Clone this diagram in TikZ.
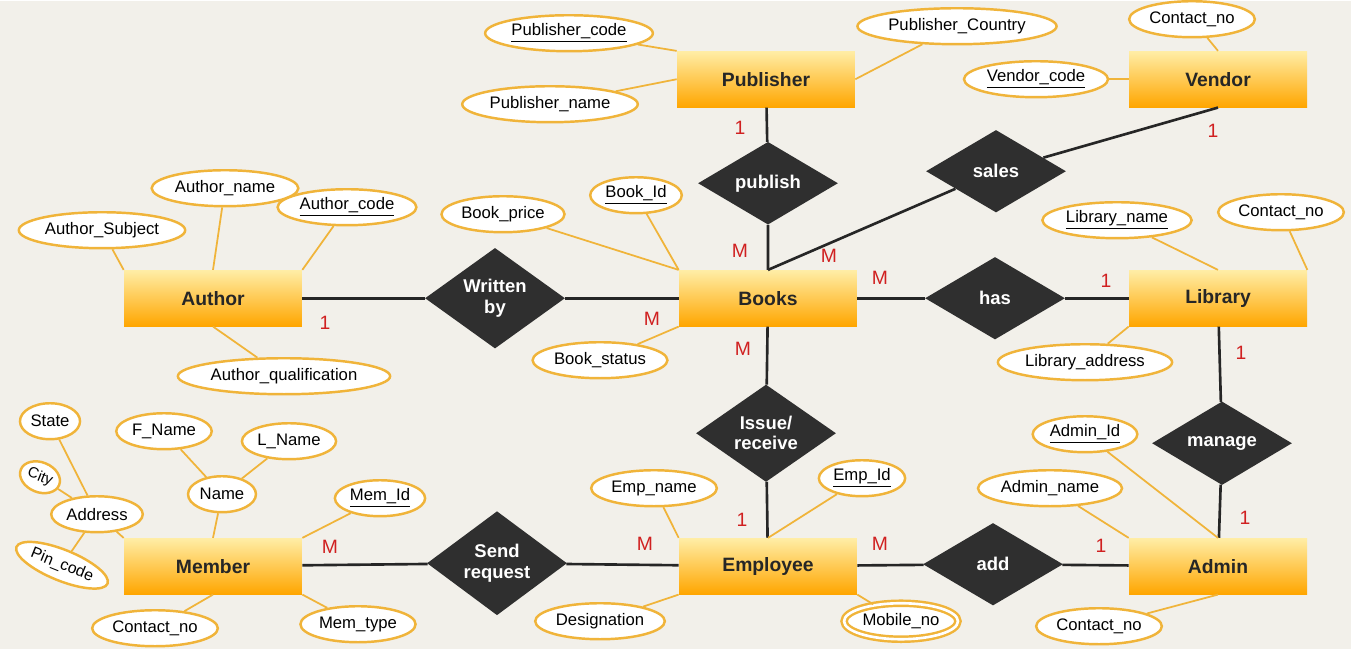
\documentclass[tikz,border=0pt]{standalone}
\usepackage{fontspec}
\setmainfont{Liberation Sans}
\usetikzlibrary{shapes.geometric}
\definecolor{bg}{HTML}{F2F0EA}
\definecolor{orng}{HTML}{F0B43A}
\definecolor{dia}{HTML}{2F2F2F}
\definecolor{card}{HTML}{D02020}
\tikzset{
 ent/.style={draw=none,top color=yellow!60!orange!35!white,bottom color=orange!70!yellow,minimum width=3.56cm,minimum height=1.12cm,font=\bfseries\fontsize{11}{12}\selectfont,text=black!85},
 rel/.style={diamond,fill=dia,text=white,minimum width=2.8cm,minimum height=1.65cm,inner sep=0pt,align=center,font=\bfseries\fontsize{10.5}{11.5}\selectfont},
 att/.style={ellipse,draw=orng,line width=1.4pt,fill=white,inner xsep=1pt,inner ysep=0pt,minimum height=0.72cm,font=\fontsize{9.5}{10}\selectfont},
 cd/.style={text=card,font=\fontsize{11}{12}\selectfont},
 ln/.style={line width=1.5pt,draw=black!85},
 al/.style={draw=orng,line width=1pt}
}
\begin{document}
\begin{tikzpicture}[x=0.02cm,y=-0.02cm]
\fill[bg] (0,0) rectangle (1351,648);
\node[ent] (pub) at (766,78) {Publisher};
\node[ent] (ven) at (1218,78) {Vendor};
\node[ent] (aut) at (213,297) {Author};
\node[ent] (boo) at (768,297) {Books};
\node[ent] (lib) at (1218,297) {Library};
\node[ent] (mem) at (213,565) {Member};
\node[ent] (emp) at (768,565) {Employee};
\node[ent] (adm) at (1218,565) {Admin};

\node[rel] (rpub) at (768,182) {publish};
\node[rel] (rsal) at (996,170) {sales};
\node[rel] (rwri) at (495,297) {Written\\by};
\node[rel] (rhas) at (995,297) {has};
\node[rel] (riss) at (766,432) {Issue/\\receive};
\node[rel] (rman) at (1222,442) {manage};
\node[rel] (rsen) at (497,562) {Send\\request};
\node[rel] (radd) at (993,563) {add};

\draw[ln] (pub) -- (rpub) -- (boo);
\draw[ln] (ven.south) -- (rsal) -- (boo.north);
\draw[ln] (aut) -- (rwri) -- (boo);
\draw[ln] (boo) -- (rhas) -- (lib);
\draw[ln] (boo) -- (riss) -- (emp);
\draw[ln] (lib) -- (rman) -- (adm);
\draw[ln] (mem) -- (rsen) -- (emp);
\draw[ln] (emp) -- (radd) -- (adm);

\node[att] (a1) at (569,32) {\underline{Publisher\_code}};
\node[att] (a2) at (550,103) {Publisher\_name};
\node[att] (a3) at (957,25) {Publisher\_Country};
\node[att] (a4) at (1192,18) {Contact\_no};
\node[att] (a5) at (1036,78) {\underline{Vendor\_code}};
\node[att] (a6) at (225,187) {Author\_name};
\node[att] (a7) at (102,229) {Author\_Subject};
\node[att] (a8) at (347,206) {\underline{Author\_code}};
\node[att] (a9) at (284,375) {Author\_qualification};
\node[att] (a10) at (503,213) {Book\_price};
\node[att] (a11) at (636,194) {\underline{Book\_Id}};
\node[att] (a12) at (600,359) {Book\_status};
\node[att] (a13) at (1117,219) {\underline{Library\_name}};
\node[att] (a14) at (1281,211) {Contact\_no};
\node[att] (a15) at (1085,361) {Library\_address};
\node[att] (a16) at (50,420) {State};
\node[att] (a17) at (164,430) {F\_Name};
\node[att] (a18) at (289,440) {L\_Name};
\node[att] (a19) at (222,493) {Name};
\node[att,rotate=-22,font=\fontsize{8.5}{9}\selectfont,minimum height=0.6cm] (a20) at (40,476) {City};
\node[att] (a21) at (97,513) {Address};
\node[att,rotate=-22,font=\fontsize{9}{9}\selectfont,minimum height=0.62cm] (a22) at (62,564) {Pin\_code};
\node[att] (a23) at (380,497) {\underline{Mem\_Id}};
\node[att] (a24) at (155,627) {Contact\_no};
\node[att] (a25) at (358,623) {Mem\_type};
\node[att] (a26) at (654,487) {Emp\_name};
\node[att] (a27) at (862,477) {\underline{Emp\_Id}};
\node[att] (a28) at (600,620) {Designation};
\node[att,double=white,double distance=1.5pt] (a29) at (901,620) {Mobile\_no};
\node[att] (a30) at (1085,433) {\underline{Admin\_Id}};
\node[att] (a31) at (1050,487) {Admin\_name};
\node[att] (a32) at (1099,625) {Contact\_no};

\draw[al] (a1) -- (pub.north west);
\draw[al] (a2) -- (pub.west);
\draw[al] (a3) -- (pub.east);
\draw[al] (a4) -- (ven.north);
\draw[al] (a5) -- (ven.west);
\draw[al] (a6) -- (aut.north);
\draw[al] (a7) -- (aut.north west);
\draw[al] (a8) -- (aut.north east);
\draw[al] (a9) -- (aut.south);
\draw[al] (a10) -- (boo.north west);
\draw[al] (a11) -- (boo.north west);
\draw[al] (a12) -- (boo.south west);
\draw[al] (a13) -- (lib.north);
\draw[al] (a14) -- (lib.north east);
\draw[al] (a15) -- (lib.south west);
\draw[al] (a16) -- (a21);
\draw[al] (a17) -- (a19);
\draw[al] (a18) -- (a19);
\draw[al] (a19) -- (mem.north);
\draw[al] (a20) -- (a21);
\draw[al] (a22) -- (a21);
\draw[al] (a21) -- (mem.north west);
\draw[al] (a23) -- (mem.north east);
\draw[al] (a24) -- (mem.south);
\draw[al] (a25) -- (mem.south east);
\draw[al] (a26) -- (emp.north west);
\draw[al] (a27) -- (emp.north);
\draw[al] (a28) -- (emp.south west);
\draw[al] (a29) -- (emp.south east);
\draw[al] (a30) -- (adm.north);
\draw[al] (a31) -- (adm.north west);
\draw[al] (a32) -- (adm.south);

\node[cd] at (740,127) {1};
\node[cd] at (740,250) {M};
\node[cd] at (829,255) {M};
\node[cd] at (1213,130) {1};
\node[cd] at (325,322) {1};
\node[cd] at (652,318) {M};
\node[cd] at (880,277) {M};
\node[cd] at (1106,280) {1};
\node[cd] at (743,348) {M};
\node[cd] at (1241,352) {1};
\node[cd] at (1245,517) {1};
\node[cd] at (330,546) {M};
\node[cd] at (645,543) {M};
\node[cd] at (742,519) {1};
\node[cd] at (880,543) {M};
\node[cd] at (1101,545) {1};
\end{tikzpicture}
\end{document}
